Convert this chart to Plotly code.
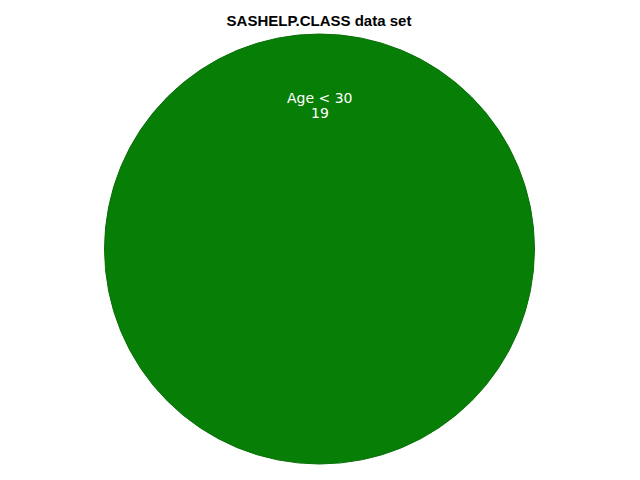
import plotly.graph_objects as go

categories = ["Age < 30"]
counts = [19]
title_text = "SASHELP.CLASS data set"

# page body adds ~8px offset; compensate
OX, OY = 8, 7
W, H = 640, 480

fig = go.Figure()
fig.add_trace(go.Pie(
    labels=categories,
    values=counts,
    sort=False,
    textinfo="none",
    hoverinfo="label+value",
    marker=dict(colors=["#077f07"], line=dict(color="#0a700a", width=1)),
    domain=dict(x=[(104 - OX) / W, (535 - OX) / W],
                y=[(H - (463 - OY)) / H, (H - (33 - OY)) / H]),
    showlegend=False,
))

label_font = dict(family="DejaVu Sans, Verdana", size=14, color="white")
fig.add_annotation(
    x=(320 - OX) / W, y=(H - (97 - OY)) / H, xref="paper", yref="paper",
    text=categories[0], showarrow=False, font=label_font,
    xanchor="center", yanchor="middle",
)
fig.add_annotation(
    x=(320 - OX) / W, y=(H - (112 - OY)) / H, xref="paper", yref="paper",
    text=str(counts[0]), showarrow=False, font=label_font,
    xanchor="center", yanchor="middle",
)

fig.update_layout(
    width=W, height=H,
    margin=dict(l=0, r=0, t=0, b=0),
    paper_bgcolor="white",
    plot_bgcolor="white",
    title=dict(text=f"<b>{title_text}</b>", x=(319 - OX) / W, xanchor="center",
               y=(H - (20 - OY)) / H, yanchor="middle",
               font=dict(family="Liberation Sans, Arial", size=15, color="black")),
)

fig.write_html("out.html")
